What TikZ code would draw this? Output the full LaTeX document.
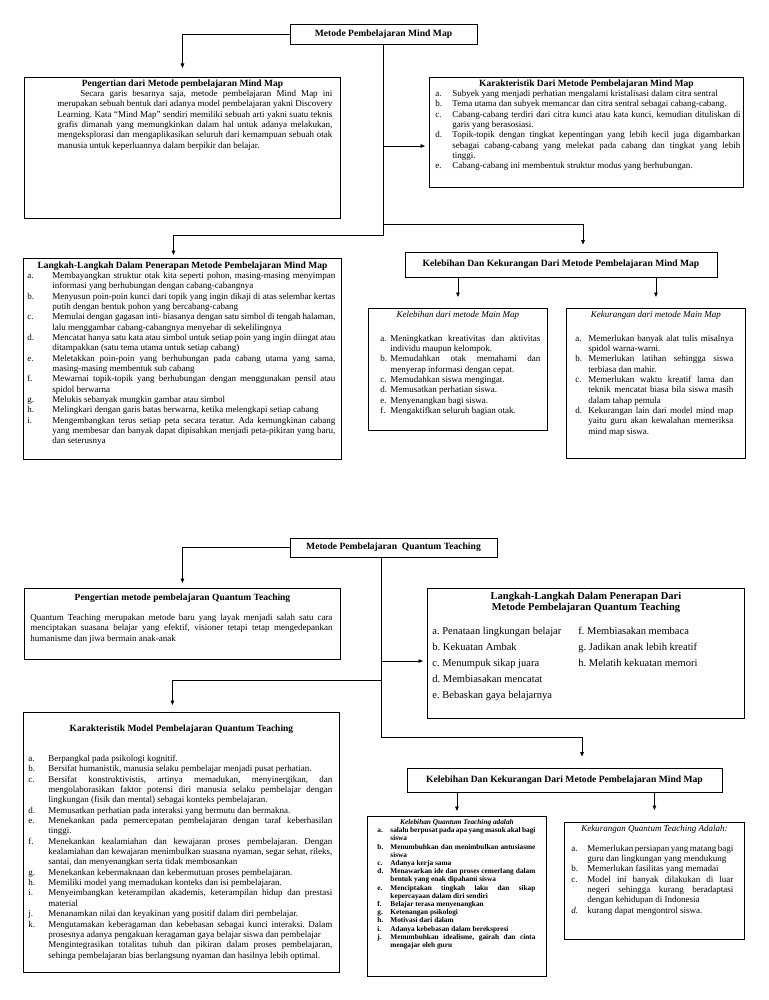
\documentclass[tikz,border=0pt]{standalone}
\usepackage{fontspec}
\setmainfont{Liberation Serif}
\usepackage{enumitem}
\usetikzlibrary{arrows.meta}
\setlist[enumerate]{label=\alph*., nosep, align=left, labelwidth=12pt, labelsep=*}
\newcommand{\pnl}[3]{\parbox[c][#2][t]{#1}{\hyphenpenalty=10000\exhyphenpenalty=10000\tolerance=9999\emergencystretch=8pt\frenchspacing #3}}
\newcommand{\fs}{\fontsize{9}{10.35}\selectfont}
\newcommand{\hd}[1]{{\centering\bfseries\fontsize{9.5}{10.9}\selectfont #1\par}}
\newcommand{\hi}[1]{{\centering\itshape #1\par}}
\tikzset{
  panel/.style={draw, line width=0.9pt, inner sep=0pt, anchor=north west, font=\fs},
  titlebox/.style={draw, line width=0.9pt, inner sep=0pt, font=\bfseries\fontsize{9.6}{11}\selectfont},
  wire/.style={line width=0.9pt},
  conn/.style={line width=0.9pt, -{Triangle[length=4.5pt,width=3.6pt]}}
}
\begin{document}
\begin{tikzpicture}[x=1pt,y=-1pt]
\useasboundingbox[fill=white] (0,0) rectangle (768,1000);

% ===== Mind Map section =====
\node[titlebox, minimum width=187pt, minimum height=20pt] (T1) at (383.5,34) {Metode Pembelajaran Mind Map};

\node[panel] (B1) at (24,77) {\pnl{316pt}{141pt}{\vspace*{2pt}%
\hd{Pengertian dari Metode pembelajaran Mind Map}
{\leftskip=33pt\rightskip=8pt\noindent\hspace*{23pt}Secara garis besarnya saja, metode pembelajaran Mind Map ini merupakan sebuah bentuk dari adanya model pembelajaran yakni Discovery Learning. Kata ``Mind Map'' sendiri memiliki sebuah arti yakni suatu teknis grafis dimanah yang memungkinkan dalam hal untuk adanya melakukan, mengeksplorasi dan mengaplikasikan seluruh dari kemampuan sebuah otak manusia untuk keperluannya dalam berpikir dan belajar.\par}}};

\node[panel] (B2) at (429,77) {\pnl{314pt}{110pt}{\vspace*{2pt}%
\hd{Karakteristik Dari Metode Pembelajaran Mind Map}
\begin{enumerate}[labelindent=6pt, leftmargin=23pt, rightmargin=3pt]
\item Subyek yang menjadi perhatian mengalami kristalisasi dalam citra sentral
\item Tema utama dan subyek memancar dan citra sentral sebagai cabang-cabang.
\item Cabang-cabang terdiri dari citra kunci atau kata kunci, kemudian dituliskan di garis yang berasosiasi.
\item Topik-topik dengan tingkat kepentingan yang lebih kecil juga digambarkan sebagai cabang-cabang yang melekat pada cabang dan tingkat yang lebih\linebreak tinggi.
\item Cabang-cabang ini membentuk struktur modus yang berhubungan.
\end{enumerate}}};

\node[panel] (B3) at (23,258) {\pnl{318pt}{201pt}{\vspace*{3pt}%
\hd{Langkah-Langkah Dalam Penerapan Metode Pembelajaran Mind Map}
\begin{enumerate}[labelindent=4pt, leftmargin=29pt, rightmargin=6pt]
\item Membayangkan struktur otak kita seperti pohon, masing-masing menyimpan informasi yang berhubungan dengan cabang-cabangnya
\item Menyusun poin-poin kunci dari topik yang ingin dikaji di atas selembar kertas putih dengan bentuk pohon yang bercabang-cabang
\item Memulai dengan gagasan inti- biasanya dengan satu simbol di tengah halaman, lalu menggambar cabang-cabangnya menyebar di sekelilingnya
\item Mencatat hanya satu kata atau simbol untuk setiap poin yang ingin diingat atau ditampakkan (satu tema utama untuk setiap cabang)
\item Meletakkan poin-poin yang berhubungan pada cabang utama yang sama, masing-masing membentuk sub cabang
\item Mewarnai topik-topik yang berhubungan dengan menggunakan pensil atau spidol berwarna
\item Melukis sebanyak mungkin gambar atau simbol
\item Melingkari dengan garis batas berwarna, ketika melengkapi setiap cabang
\item Mengembangkan terus setiap peta secara teratur. Ada kemungkinan cabang yang membesar dan banyak dapat dipisahkan menjadi peta-pikiran yang baru, dan seterusnya
\end{enumerate}}};

\node[titlebox, minimum width=312pt, minimum height=25pt] (K1) at (561,264.5) {Kelebihan Dan Kekurangan Dari Metode Pembelajaran Mind Map};

\node[panel] (B4) at (368,308) {\pnl{179pt}{122pt}{\vspace*{3pt}%
\hi{Kelebihan dari metode Main Map}
\vspace{13pt}
\begin{enumerate}[labelindent=12pt, leftmargin=22pt, rightmargin=7pt]
\item Meningkatkan kreativitas dan aktivitas individu maupun kelompok.
\item Memudahkan otak memahami dan menyerap informasi dengan cepat.
\item Memudahkan siswa mengingat.
\item Memusatkan perhatian siswa.
\item Menyenangkan bagi siswa.
\item Mengaktifkan seluruh bagian otak.
\end{enumerate}}};

\node[panel] (B5) at (566,308) {\pnl{179pt}{150pt}{\vspace*{3pt}%
\hi{Kekurangan dari metode Main Map}
\vspace{13pt}
\begin{enumerate}[labelindent=9pt, leftmargin=22pt, rightmargin=12pt]
\item Memerlukan banyak alat tulis misalnya spidol warna-warni.
\item Memerlukan latihan sehingga siswa terbiasa dan mahir.
\item Memerlukan waktu kreatif lama dan teknik mencatat biasa bila siswa masih dalam tahap pemula
\item Kekurangan lain dari model mind map yaitu guru akan kewalahan memeriksa mind map siswa.
\end{enumerate}}};

\coordinate (j1) at (383.5,146);
\coordinate (j2) at (383.5,224);
\coordinate (j3) at (383.5,235);
\draw[conn, shorten >=9pt] (T1.west) -| (B1.north);
\draw[wire] (T1.south) -- (j3);
\draw[conn, shorten >=4pt] (j1) -- (j1 -| B2.west);
\draw[conn, shorten >=7pt] (j2) -| ([xshift=22pt]K1.north);
\draw[conn, shorten >=3pt] (j3) -| ([xshift=-9pt]B3.north);
\draw[conn, shorten >=11pt] (K1.south -| B4.north) -- (B4.north);
\draw[conn, shorten >=11pt] (K1.south -| B5.north) -- (B5.north);

% ===== Quantum Teaching section =====
\node[titlebox, minimum width=207pt, minimum height=19pt] (T2) at (393.5,547.5) {Metode Pembelajaran\ \ Quantum Teaching};

\node[panel] (Q1) at (24,588) {\pnl{316pt}{71pt}{\vspace*{5pt}%
\hd{Pengertian metode pembelajaran Quantum Teaching}
\vspace{10pt}
{\leftskip=6pt\rightskip=8pt\noindent Quantum Teaching merupakan metode baru yang layak menjadi salah satu cara menciptakan suasana belajar yang efektif, visioner tetapi tetap mengedepankan humanisme dan jiwa bermain anak-anak\par}}};

\node[panel] (Q2) at (427,588) {\pnl{317pt}{130pt}{\vspace*{4pt}%
{\centering\bfseries\fontsize{10.5}{11}\selectfont Langkah-Langkah Dalam Penerapan Dari\\Metode Pembelajaran Quantum Teaching\par}
\vspace{12pt}
{\fontsize{10.5}{12}\selectfont\noindent
\begin{tabular}{@{\hspace{5pt}}p{146pt}@{}l}
a. Penataan lingkungan belajar & f. Membiasakan membaca\\[4pt]
b. Kekuatan Ambak & g. Jadikan anak lebih kreatif\\[4pt]
c. Menumpuk sikap juara & h. Melatih kekuatan memori\\[4pt]
d. Membiasakan mencatat & \\[4pt]
e. Bebaskan gaya belajarnya &
\end{tabular}\par}}};

\node[panel] (Q3) at (23,712) {\pnl{316pt}{260pt}{\vspace*{12pt}%
\hd{Karakteristik Model Pembelajaran Quantum Teaching}
\vspace{20pt}
\begin{enumerate}[labelindent=5pt, leftmargin=25pt, rightmargin=7pt]
\item Berpangkal pada psikologi kognitif.
\item Bersifat humanistik, manusia selaku pembelajar menjadi pusat perhatian.
\item Bersifat konstruktivistis, artinya memadukan, menyinergikan, dan mengolaborasikan faktor potensi diri manusia selaku pembelajar dengan lingkungan (fisik dan mental) sebagai konteks pembelajaran.
\item Memusatkan perhatian pada interaksi yang bermutu dan bermakna.
\item Menekankan pada pemercepatan pembelajaran dengan taraf keberhasilan\linebreak tinggi.
\item Menekankan kealamiahan dan kewajaran proses pembelajaran. Dengan kealamiahan dan kewajaran menimbulkan suasana nyaman, segar sehat, rileks, santai, dan menyenangkan serta tidak membosankan
\item Menekankan kebermaknaan dan kebermutuan proses pembelajaran.
\item Memiliki model yang memadukan konteks dan isi pembelajaran.
\item Menyeimbangkan keterampilan akademis, keterampilan hidup dan prestasi material
\item Menanamkan nilai dan keyakinan yang positif dalam diri pembelajar.
\item Mengutamakan keberagaman dan kebebasan sebagai kunci interaksi. Dalam prosesnya adanya pengakuan keragaman gaya belajar siswa dan pembelajar\par
Mengintegrasikan totalitas tubuh dan pikiran dalam proses pembelajaran, sehinga pembelajaran bias berlangsung nyaman dan hasilnya lebih optimal.
\end{enumerate}}};

\node[titlebox, minimum width=315pt, minimum height=24pt] (K2) at (564.5,780) {Kelebihan Dan Kekurangan Dari Metode Pembelajaran Mind Map};

\node[panel] (Q4) at (367,816) {\pnl{179pt}{160pt}{\bfseries\fontsize{7.3}{8.2}\selectfont\vspace*{3pt}%
{\centering\itshape Kelebihan Quantum Teaching adalah\par}
\begin{enumerate}[labelindent=10pt, leftmargin=23pt, rightmargin=11pt]
\item salalu berpusat pada apa yang masuk akal bagi siswa
\item Menumbuhkan dan menimbulkan antusiasme siswa
\item Adanya kerja sama
\item Menawarkan ide dan proses cemerlang dalam bentuk yang enak dipahami siswa
\item Menciptakan tingkah laku dan sikap kepercayaan dalam diri sendiri
\item Belajar terasa menyenangkan
\item Ketenangan psikologi
\item Motivasi dari dalam
\item Adanya kebebasan dalam berekspresi
\item Menumbuhkan idealisme, gairah dan cinta mengajar oleh guru
\end{enumerate}}};

\node[panel] (Q5) at (564,822) {\pnl{180pt}{117pt}{\vspace*{3pt}%
\hi{Kekurangan Quantum Teaching Adalah:}
\vspace{9pt}
\begin{enumerate}[labelindent=7pt, leftmargin=23pt, rightmargin=11pt]
\item Memerlukan persiapan yang matang bagi guru dan lingkungan yang mendukung
\item Memerlukan fasilitas yang memadai
\item Model ini banyak dilakukan di luar negeri sehingga kurang beradaptasi dengan kehidupan di Indonesia
\item[\textit{d.}] kurang dapat mengontrol siswa.
\end{enumerate}}};

\coordinate (q0) at (381,557);
\coordinate (q1) at (381,661);
\coordinate (q2) at (381,680);
\coordinate (q3) at (381,737);
\draw[conn, shorten >=5pt] (T2.west) -| (Q1.north);
\draw[wire] (q0) -- (q3);
\draw[conn, shorten >=4pt] (q1) -- (q1 -| Q2.west);
\draw[conn, shorten >=7pt] (q2) -| ([xshift=-9pt]Q3.north);
\draw[conn, shorten >=11pt] (q3) -| ([xshift=17.5pt]K2.north);
\draw[conn, shorten >=5pt] (K2.south -| Q4.north) -- (Q4.north);
\draw[conn, shorten >=12pt] (K2.south -| Q5.north) -- (Q5.north);
\end{tikzpicture}
\end{document}
